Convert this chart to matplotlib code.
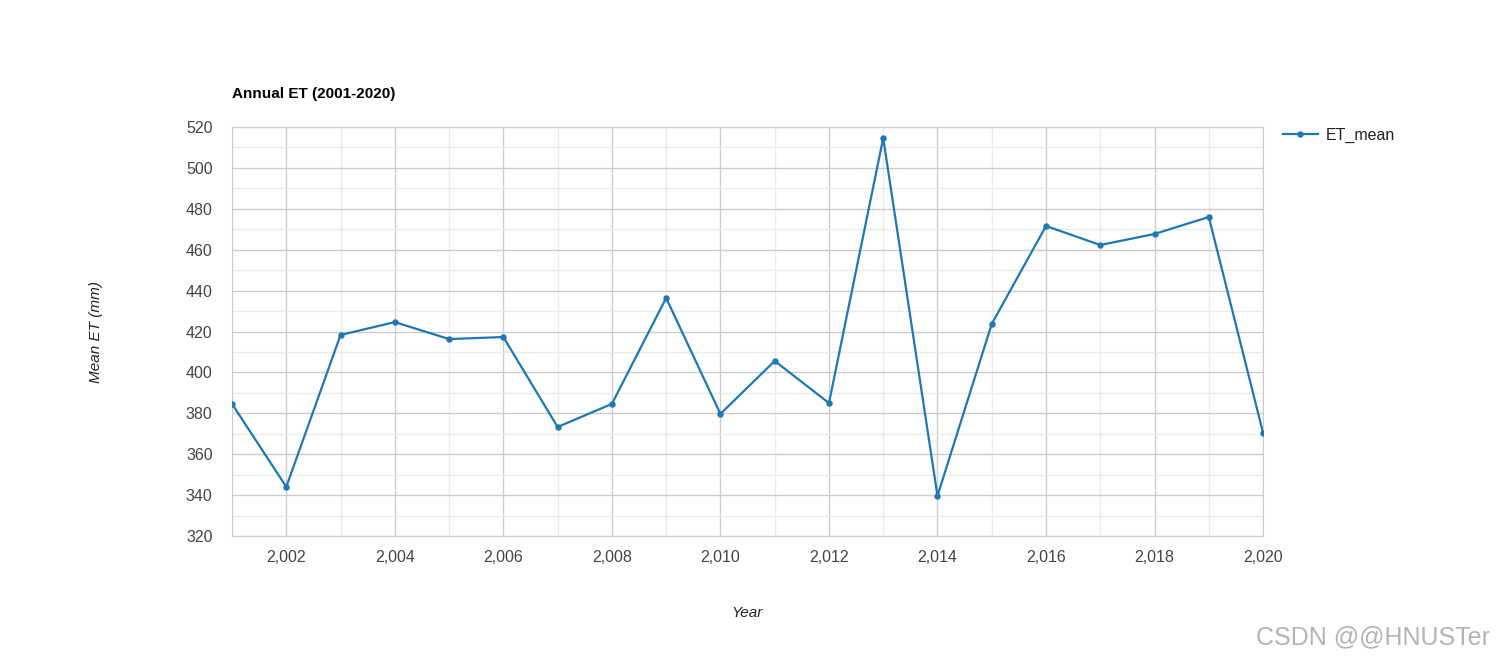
# IMPORT PACKAGES
from matplotlib import pyplot as plt
from matplotlib.ticker import MultipleLocator, FuncFormatter

# DATA
years = list(range(2001, 2021))
et_mean = [384.6, 344.0, 418.3, 424.6, 416.3, 417.3, 373.3, 384.6, 436.4, 379.7,
           405.6, 385.0, 514.6, 339.6, 423.7, 471.6, 462.3, 467.7, 476.0, 370.4]
y_ticks = list(range(320, 521, 20))

plt.rcParams["font.family"] = ["Liberation Sans", "DejaVu Sans"]

fig = plt.figure(figsize=(14.96, 6.64), dpi=100)
ax = fig.add_axes([0.1551, 0.1928, 0.6892, 0.6159])

ax.plot(years, et_mean, color="#1f77b4", linewidth=1.6, marker="o",
        markersize=3.6, label="ET_mean", zorder=3)

ax.set_xlim(2001, 2020)
ax.set_ylim(320, 520)
ax.xaxis.set_major_locator(MultipleLocator(2))
ax.xaxis.set_minor_locator(MultipleLocator(1))
ax.yaxis.set_major_locator(MultipleLocator(20))
ax.yaxis.set_minor_locator(MultipleLocator(10))
ax.xaxis.set_major_formatter(FuncFormatter(lambda v, p: f"{int(v):,}"))
ax.set_yticks(y_ticks)

ax.grid(which="major", color="#cccccc", linewidth=1)
ax.grid(which="minor", color="#ebebeb", linewidth=1)
ax.set_axisbelow(True)
for s in ax.spines.values():
    s.set_color("#cccccc")
ax.tick_params(which="both", length=0, labelsize=11.5, colors="#444444")
ax.tick_params(axis="x", pad=10)
ax.tick_params(axis="y", pad=14)

ax.set_title("Annual ET (2001-2020)", loc="left", fontsize=11, fontweight="bold",
             pad=21)
ax.set_xlabel("Year", fontsize=11, style="italic", color="#222222", labelpad=29.5)
ax.set_ylabel("Mean ET (mm)", fontsize=11, style="italic", color="#222222",
              labelpad=59.5)

ax.legend(loc="upper left", bbox_to_anchor=(1.005, 1.033), frameon=False,
          fontsize=11.5, handlelength=2.2, handletextpad=0.5, labelcolor="#222222")

fig.text(0.996, 0.022, "CSDN @@HNUSTer", ha="right", va="bottom", fontsize=18,
         color="#b4b4b4")

fig.savefig("out.png", dpi=100)
